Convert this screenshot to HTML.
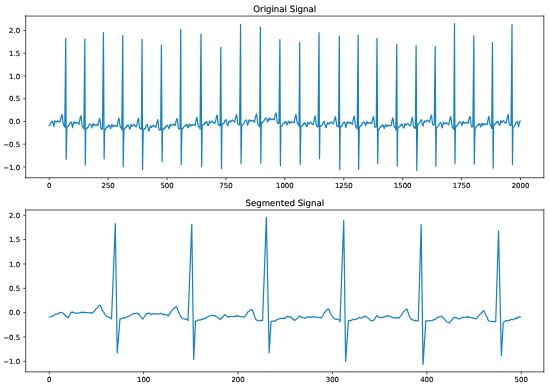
<!DOCTYPE html>
<html><head><meta charset="utf-8"><title>Signals</title>
<style>html,body{margin:0;padding:0;background:#fff;width:550px;height:389px;overflow:hidden}svg{display:block}
text{text-rendering:geometricPrecision;font-family:"DejaVu Sans","Liberation Sans",sans-serif;stroke:#000;stroke-width:0.2}</style></head>
<body>
<svg preserveAspectRatio="none" width="550" height="389" viewBox="0 0 792 560.16" version="1.1">
 
 <defs>
  <style type="text/css">*{stroke-linejoin: round; stroke-linecap: butt}</style>
 </defs>
 <g id="figure_1">
  <g id="patch_1">
   <path d="M 0 560.16 
L 792 560.16 
L 792 0 
L 0 0 
z
" style="fill: #ffffff"/>
  </g>
  <g id="axes_1">
   <g id="patch_2">
    <path d="M 37.008 255.96 
L 783.072 255.96 
L 783.072 23.112 
L 37.008 23.112 
z
" style="fill: #ffffff"/>
   </g>
   <g id="matplotlib.axis_1">
    <g id="xtick_1">
     <g id="line2d_1">
      <g>
       <path d="M 70.9200 255.9600 L 70.9200 259.4600" style="stroke: #000000"/>
      </g>
     </g>
     <g id="text_1">
      <text style="font-size: 10px; font-family: 'DejaVu Sans', 'Liberation Sans', sans-serif; text-anchor: middle" x="70.92" y="271.358437" transform="rotate(-0 70.92 271.358437)">0</text>
     </g>
    </g>
    <g id="xtick_2">
     <g id="line2d_2">
      <g>
       <path d="M 155.7424 255.9600 L 155.7424 259.4600" style="stroke: #000000"/>
      </g>
     </g>
     <g id="text_2">
      <text style="font-size: 10px; font-family: 'DejaVu Sans', 'Liberation Sans', sans-serif; text-anchor: middle" x="155.742411" y="271.358437" transform="rotate(-0 155.742411 271.358437)">250</text>
     </g>
    </g>
    <g id="xtick_3">
     <g id="line2d_3">
      <g>
       <path d="M 240.5648 255.9600 L 240.5648 259.4600" style="stroke: #000000"/>
      </g>
     </g>
     <g id="text_3">
      <text style="font-size: 10px; font-family: 'DejaVu Sans', 'Liberation Sans', sans-serif; text-anchor: middle" x="240.564822" y="271.358437" transform="rotate(-0 240.564822 271.358437)">500</text>
     </g>
    </g>
    <g id="xtick_4">
     <g id="line2d_4">
      <g>
       <path d="M 325.3872 255.9600 L 325.3872 259.4600" style="stroke: #000000"/>
      </g>
     </g>
     <g id="text_4">
      <text style="font-size: 10px; font-family: 'DejaVu Sans', 'Liberation Sans', sans-serif; text-anchor: middle" x="325.387234" y="271.358437" transform="rotate(-0 325.387234 271.358437)">750</text>
     </g>
    </g>
    <g id="xtick_5">
     <g id="line2d_5">
      <g>
       <path d="M 410.2096 255.9600 L 410.2096 259.4600" style="stroke: #000000"/>
      </g>
     </g>
     <g id="text_5">
      <text style="font-size: 10px; font-family: 'DejaVu Sans', 'Liberation Sans', sans-serif; text-anchor: middle" x="410.209645" y="271.358437" transform="rotate(-0 410.209645 271.358437)">1000</text>
     </g>
    </g>
    <g id="xtick_6">
     <g id="line2d_6">
      <g>
       <path d="M 495.0321 255.9600 L 495.0321 259.4600" style="stroke: #000000"/>
      </g>
     </g>
     <g id="text_6">
      <text style="font-size: 10px; font-family: 'DejaVu Sans', 'Liberation Sans', sans-serif; text-anchor: middle" x="495.032056" y="271.358437" transform="rotate(-0 495.032056 271.358437)">1250</text>
     </g>
    </g>
    <g id="xtick_7">
     <g id="line2d_7">
      <g>
       <path d="M 579.8545 255.9600 L 579.8545 259.4600" style="stroke: #000000"/>
      </g>
     </g>
     <g id="text_7">
      <text style="font-size: 10px; font-family: 'DejaVu Sans', 'Liberation Sans', sans-serif; text-anchor: middle" x="579.854467" y="271.358437" transform="rotate(-0 579.854467 271.358437)">1500</text>
     </g>
    </g>
    <g id="xtick_8">
     <g id="line2d_8">
      <g>
       <path d="M 664.6769 255.9600 L 664.6769 259.4600" style="stroke: #000000"/>
      </g>
     </g>
     <g id="text_8">
      <text style="font-size: 10px; font-family: 'DejaVu Sans', 'Liberation Sans', sans-serif; text-anchor: middle" x="664.676878" y="271.358437" transform="rotate(-0 664.676878 271.358437)">1750</text>
     </g>
    </g>
    <g id="xtick_9">
     <g id="line2d_9">
      <g>
       <path d="M 749.4993 255.9600 L 749.4993 259.4600" style="stroke: #000000"/>
      </g>
     </g>
     <g id="text_9">
      <text style="font-size: 10px; font-family: 'DejaVu Sans', 'Liberation Sans', sans-serif; text-anchor: middle" x="749.49929" y="271.358437" transform="rotate(-0 749.49929 271.358437)">2000</text>
     </g>
    </g>
   </g>
   <g id="matplotlib.axis_2">
    <g id="ytick_1">
     <g id="line2d_10">
      <g>
       <path d="M 37.0080 240.3504 L 33.5080 240.3504" style="stroke: #000000"/>
      </g>
     </g>
     <g id="text_10">
      <text style="font-size: 10px; font-family: 'DejaVu Sans', 'Liberation Sans', sans-serif; text-anchor: end" x="28.908" y="244.149619" transform="rotate(-0 28.908 244.149619)">−1.0</text>
     </g>
    </g>
    <g id="ytick_2">
     <g id="line2d_11">
      <g>
       <path d="M 37.0080 207.6264 L 33.5080 207.6264" style="stroke: #000000"/>
      </g>
     </g>
     <g id="text_11">
      <text style="font-size: 10px; font-family: 'DejaVu Sans', 'Liberation Sans', sans-serif; text-anchor: end" x="28.908" y="211.425619" transform="rotate(-0 28.908 211.425619)">−0.5</text>
     </g>
    </g>
    <g id="ytick_3">
     <g id="line2d_12">
      <g>
       <path d="M 37.0080 174.9024 L 33.5080 174.9024" style="stroke: #000000"/>
      </g>
     </g>
     <g id="text_12">
      <text style="font-size: 10px; font-family: 'DejaVu Sans', 'Liberation Sans', sans-serif; text-anchor: end" x="28.908" y="178.701619" transform="rotate(-0 28.908 178.701619)">0.0</text>
     </g>
    </g>
    <g id="ytick_4">
     <g id="line2d_13">
      <g>
       <path d="M 37.0080 142.1784 L 33.5080 142.1784" style="stroke: #000000"/>
      </g>
     </g>
     <g id="text_13">
      <text style="font-size: 10px; font-family: 'DejaVu Sans', 'Liberation Sans', sans-serif; text-anchor: end" x="28.908" y="145.977619" transform="rotate(-0 28.908 145.977619)">0.5</text>
     </g>
    </g>
    <g id="ytick_5">
     <g id="line2d_14">
      <g>
       <path d="M 37.0080 109.4544 L 33.5080 109.4544" style="stroke: #000000"/>
      </g>
     </g>
     <g id="text_14">
      <text style="font-size: 10px; font-family: 'DejaVu Sans', 'Liberation Sans', sans-serif; text-anchor: end" x="28.908" y="113.253619" transform="rotate(-0 28.908 113.253619)">1.0</text>
     </g>
    </g>
    <g id="ytick_6">
     <g id="line2d_15">
      <g>
       <path d="M 37.0080 76.7304 L 33.5080 76.7304" style="stroke: #000000"/>
      </g>
     </g>
     <g id="text_15">
      <text style="font-size: 10px; font-family: 'DejaVu Sans', 'Liberation Sans', sans-serif; text-anchor: end" x="28.908" y="80.529619" transform="rotate(-0 28.908 80.529619)">1.5</text>
     </g>
    </g>
    <g id="ytick_7">
     <g id="line2d_16">
      <g>
       <path d="M 37.0080 44.0064 L 33.5080 44.0064" style="stroke: #000000"/>
      </g>
     </g>
     <g id="text_16">
      <text style="font-size: 10px; font-family: 'DejaVu Sans', 'Liberation Sans', sans-serif; text-anchor: end" x="28.908" y="47.805619" transform="rotate(-0 28.908 47.805619)">2.0</text>
     </g>
    </g>
   </g>
   <g id="line2d_17">
    <path d="M 70.92 180.859147 
L 71.25929 180.414999 
L 71.598579 180.312645 
L 71.937869 180.089479 
L 72.277159 179.02575 
L 72.616448 178.344066 
L 73.295028 176.56378 
L 73.634317 177.056857 
L 73.973607 176.697351 
L 74.312896 175.591932 
L 74.991476 174.40407 
L 75.670055 175.313936 
L 76.009345 175.734055 
L 76.348634 177.576722 
L 76.687924 178.391226 
L 77.027214 180.096782 
L 77.366503 180.894328 
L 77.705793 182.148916 
L 78.723662 174.47787 
L 79.402241 174.08996 
L 79.741531 174.897645 
L 80.08082 175.122217 
L 80.42011 175.774367 
L 80.7594 175.428969 
L 81.098689 175.792473 
L 81.437979 175.143181 
L 81.777269 175.234129 
L 82.116558 175.061801 
L 82.455848 174.221882 
L 82.795138 174.912065 
L 83.473717 174.316227 
L 83.813007 174.926969 
L 84.152296 174.831627 
L 84.830875 175.044574 
L 85.509455 174.697391 
L 85.848744 175.179292 
L 86.188034 175.974515 
L 86.527324 174.683585 
L 87.205903 172.923158 
L 87.545193 170.662661 
L 88.223772 168.573279 
L 88.563062 166.420111 
L 88.902351 165.165949 
L 89.241641 165.020943 
L 90.938089 177.487973 
L 91.616668 180.256247 
L 91.955958 180.341424 
L 92.295248 181.174687 
L 92.634537 181.253064 
L 92.973827 182.052821 
L 93.313117 183.184234 
L 94.670275 55.198008 
L 95.348854 229.289688 
L 96.366723 183.184234 
L 96.706013 183.079376 
L 97.384592 182.497673 
L 97.723882 181.525422 
L 98.063172 182.016044 
L 98.402461 181.454124 
L 98.741751 180.676063 
L 99.75962 179.55694 
L 100.098909 178.443401 
L 100.438199 177.932484 
L 100.777489 176.619788 
L 101.116778 176.323113 
L 101.456068 176.280535 
L 101.795358 175.700069 
L 102.134647 175.787478 
L 102.473937 175.481489 
L 102.813227 176.554434 
L 103.152516 176.980893 
L 103.491806 178.95527 
L 103.831096 179.791965 
L 104.509675 183.686852 
L 105.866833 176.288317 
L 106.206123 176.368985 
L 106.545413 175.279172 
L 106.884702 175.799068 
L 107.563282 177.388462 
L 107.902571 176.97727 
L 108.241861 176.197769 
L 108.581151 176.035047 
L 108.92044 176.78224 
L 109.25973 176.544541 
L 109.59902 176.636711 
L 109.938309 177.086531 
L 110.277599 176.429484 
L 110.616888 176.7275 
L 110.956178 175.867943 
L 111.974047 177.523763 
L 112.313337 177.203838 
L 112.652626 177.607974 
L 113.331206 177.802117 
L 113.670495 179.485105 
L 114.009785 176.919424 
L 114.349075 176.199429 
L 114.688364 173.478476 
L 115.027654 172.416442 
L 115.366943 170.087382 
L 115.706233 168.788836 
L 116.045523 168.764278 
L 116.384812 166.990779 
L 116.724102 166.920253 
L 117.402681 174.187178 
L 118.081261 179.911785 
L 118.75984 182.760419 
L 119.438419 183.361307 
L 119.777709 183.29564 
L 120.116998 184.070261 
L 120.456288 184.067505 
L 120.795578 185.476511 
L 122.152736 56.376072 
L 122.831316 237.73248 
L 123.509895 186.110689 
L 123.849185 186.450995 
L 124.188474 185.842133 
L 124.527764 184.491415 
L 124.867054 185.027351 
L 125.206343 184.860606 
L 125.884922 183.259878 
L 126.224212 184.009096 
L 126.563502 183.005803 
L 126.902791 182.657919 
L 127.242081 182.587052 
L 127.581371 181.009526 
L 127.92066 180.567453 
L 128.25995 179.790318 
L 128.59924 179.373921 
L 128.938529 178.49106 
L 129.277819 178.740496 
L 129.617109 178.443908 
L 129.956398 178.682063 
L 130.295688 179.242891 
L 130.634977 178.995053 
L 130.974267 180.472793 
L 131.313557 180.913278 
L 132.331426 184.143739 
L 132.670715 182.669352 
L 133.010005 181.899483 
L 134.027874 177.732334 
L 135.385033 181.111207 
L 135.724322 179.960775 
L 136.063612 179.719251 
L 136.402901 180.106464 
L 136.742191 180.073299 
L 137.081481 180.214108 
L 137.42077 180.100967 
L 137.76006 179.688467 
L 138.09935 179.85212 
L 138.438639 178.701213 
L 138.777929 179.900323 
L 139.117219 179.495199 
L 139.456508 180.062411 
L 139.795798 180.230006 
L 140.135088 180.117059 
L 140.813667 181.052311 
L 141.152956 180.631557 
L 141.492246 177.9895 
L 141.831536 177.032822 
L 142.510115 173.175443 
L 142.849405 172.694431 
L 143.527984 170.713438 
L 143.867274 171.487984 
L 144.545853 177.41477 
L 145.224432 184.500417 
L 145.563722 184.95803 
L 145.903012 185.851383 
L 146.242301 186.11518 
L 146.581591 185.27123 
L 146.92088 185.541459 
L 147.26017 185.4437 
L 147.59946 185.689329 
L 148.956618 46.820664 
L 149.974487 228.766104 
L 150.653067 186.463242 
L 150.992356 186.188254 
L 151.331646 186.384159 
L 151.670935 186.166622 
L 152.010225 186.46404 
L 152.688804 184.368774 
L 153.028094 184.075968 
L 153.367384 183.47299 
L 153.706673 183.301891 
L 154.045963 182.417255 
L 154.385253 182.561983 
L 154.724542 183.104352 
L 155.063832 182.203524 
L 155.742411 182.591518 
L 156.42099 179.999977 
L 156.76028 180.082361 
L 157.09957 180.697457 
L 157.438859 181.0292 
L 157.778149 180.638606 
L 158.796018 184.344249 
L 159.135308 185.435605 
L 160.153177 182.091677 
L 160.492466 181.129641 
L 160.831756 179.284438 
L 161.171046 180.364531 
L 161.510335 180.276986 
L 161.849625 181.770293 
L 162.188914 181.747994 
L 162.528204 182.119627 
L 162.867494 182.741557 
L 163.206783 181.1375 
L 163.546073 180.832527 
L 163.885363 181.291099 
L 164.224652 180.665081 
L 164.563942 180.678496 
L 164.903232 181.712583 
L 165.242521 180.531444 
L 165.581811 180.653861 
L 165.921101 180.597094 
L 166.26039 181.052648 
L 166.59968 180.92346 
L 166.938969 181.12765 
L 167.278259 180.831059 
L 167.617549 181.406244 
L 167.956838 181.643538 
L 168.296128 181.122778 
L 168.635418 182.023055 
L 169.313997 178.904936 
L 169.653287 175.378081 
L 171.010445 170.282253 
L 171.349735 170.024713 
L 172.367604 178.457969 
L 173.046183 182.359606 
L 173.724762 183.620711 
L 174.064052 184.021266 
L 174.403342 183.494868 
L 175.081921 184.12279 
L 175.421211 187.173118 
L 176.778369 51.271128 
L 177.456948 240.284952 
L 178.474817 185.759805 
L 178.814107 185.938281 
L 179.153397 185.073837 
L 179.492686 185.406719 
L 180.171266 183.871307 
L 180.510555 184.306549 
L 180.849845 184.193142 
L 181.528424 183.282884 
L 181.867714 182.845078 
L 182.207004 181.44671 
L 182.546293 181.101576 
L 182.885583 182.340318 
L 183.564162 181.435553 
L 183.903452 180.054347 
L 184.242741 179.82375 
L 184.582031 180.224263 
L 184.921321 180.102447 
L 185.26061 181.775891 
L 185.5999 182.23786 
L 186.617769 185.722449 
L 186.957059 185.493437 
L 187.296348 185.552141 
L 187.635638 184.769083 
L 187.974927 183.165078 
L 188.653507 178.689389 
L 188.992796 179.598052 
L 189.332086 181.049465 
L 189.671376 181.546771 
L 190.010665 181.549786 
L 190.349955 181.377962 
L 190.689245 181.505047 
L 191.367824 180.650231 
L 191.707114 180.377103 
L 192.385693 178.910295 
L 192.724982 179.185261 
L 193.064272 179.612228 
L 193.403562 179.732951 
L 193.742851 180.538888 
L 194.082141 180.937337 
L 194.421431 181.809276 
L 194.76072 181.217116 
L 195.10001 182.360391 
L 195.4393 182.375757 
L 195.778589 181.677698 
L 196.117879 181.923879 
L 196.457169 182.358463 
L 196.796458 181.702727 
L 198.492906 173.137492 
L 199.171486 170.420849 
L 199.510775 170.309008 
L 200.528644 180.82178 
L 200.867934 183.427575 
L 201.207224 183.619366 
L 201.546513 184.71924 
L 201.885803 185.043836 
L 202.225093 185.655959 
L 202.564382 185.267759 
L 203.242961 186.108283 
L 203.582251 186.007587 
L 204.60012 56.637864 
L 205.278699 244.60452 
L 206.296568 186.007587 
L 206.975148 185.853616 
L 207.314437 186.106502 
L 207.653727 185.366378 
L 207.993017 185.5 
L 208.332306 185.852423 
L 208.671596 185.506561 
L 209.010885 184.589881 
L 209.350175 184.148869 
L 209.689465 184.208925 
L 210.028754 182.176179 
L 210.368044 181.812904 
L 210.707334 180.862561 
L 211.046623 180.852002 
L 211.385913 180.112804 
L 212.064492 179.244037 
L 212.403782 181.671468 
L 212.743072 182.341474 
L 213.082361 184.408326 
L 213.421651 185.267564 
L 213.76094 187.165983 
L 214.778809 188.782551 
L 215.118099 186.601598 
L 215.796678 184.135055 
L 216.135968 182.019543 
L 216.814547 181.294219 
L 217.153837 181.590993 
L 217.493127 182.362988 
L 218.171706 183.344583 
L 218.510995 183.212837 
L 219.189575 181.664609 
L 219.528864 182.001178 
L 219.868154 180.788544 
L 220.546733 181.477506 
L 220.886023 180.69642 
L 221.225313 181.047129 
L 221.564602 180.06738 
L 221.903892 181.219387 
L 222.243182 181.090212 
L 222.921761 182.148783 
L 223.261051 181.903771 
L 223.60034 182.521212 
L 223.93963 182.824279 
L 224.278919 183.439294 
L 224.618209 182.499481 
L 225.636078 177.48907 
L 225.975368 176.648564 
L 226.314657 174.772729 
L 226.653947 174.317292 
L 226.993237 172.269142 
L 227.332526 173.539848 
L 228.011106 178.947562 
L 228.350395 181.545708 
L 228.689685 185.03881 
L 229.368264 186.845982 
L 229.707554 187.186971 
L 230.046843 186.500482 
L 230.725423 187.085794 
L 231.064712 186.86167 
L 231.404002 187.322801 
L 232.421871 64.884312 
L 233.43974 232.627536 
L 234.118319 188.826039 
L 234.457609 187.018138 
L 234.796898 186.280257 
L 235.136188 185.200543 
L 235.475478 186.007959 
L 235.814767 185.889154 
L 236.154057 185.368787 
L 236.493347 185.189371 
L 236.832636 184.138453 
L 237.171926 183.934677 
L 237.511216 184.459381 
L 237.850505 184.264017 
L 238.529085 182.034584 
L 238.868374 183.163082 
L 239.207664 181.38785 
L 239.546953 181.560131 
L 239.886243 180.325587 
L 240.225533 180.753846 
L 240.564822 180.592128 
L 240.904112 180.785685 
L 241.243402 181.107579 
L 241.582691 180.960348 
L 241.921981 182.212104 
L 242.261271 182.55579 
L 243.27914 185.373527 
L 244.975588 178.996927 
L 245.314877 179.042231 
L 246.332746 181.232145 
L 246.672036 180.901678 
L 247.011326 180.119501 
L 247.350615 180.055168 
L 247.689905 180.171631 
L 248.368484 180.066208 
L 249.386353 179.34369 
L 249.725643 178.557011 
L 250.064932 179.555757 
L 250.404222 179.219615 
L 250.743512 179.758432 
L 251.082801 179.919233 
L 251.422091 179.818447 
L 252.10067 180.671973 
L 252.43996 180.404915 
L 252.77925 178.290215 
L 253.457829 175.302373 
L 253.797119 173.498429 
L 254.814987 170.847242 
L 255.154277 170.784 
L 255.493567 172.489488 
L 256.172146 178.576964 
L 256.511436 182.125903 
L 256.850725 184.324036 
L 257.529305 185.598612 
L 257.868594 185.67208 
L 258.207884 184.997852 
L 258.547174 185.227289 
L 258.886463 185.147414 
L 259.225753 185.383085 
L 260.243622 42.453864 
L 260.922201 236.932272 
L 261.94007 185.410912 
L 262.27936 185.150209 
L 262.618649 185.311475 
L 262.957939 185.148194 
L 263.297229 185.349909 
L 263.636518 184.667253 
L 263.975808 183.656058 
L 264.654387 182.671248 
L 264.993677 182.329555 
L 265.672256 181.426951 
L 266.011546 181.713922 
L 266.350835 181.759545 
L 266.690125 181.203785 
L 267.029415 181.387116 
L 267.368704 181.296592 
L 268.047284 178.952997 
L 268.386573 179.038019 
L 268.725863 179.621162 
L 269.065153 179.946711 
L 269.404442 179.642075 
L 270.761601 184.000591 
L 271.10089 183.665913 
L 272.118759 180.614552 
L 272.458049 179.358401 
L 272.797339 178.596815 
L 273.136628 179.287188 
L 273.475918 179.57374 
L 273.815208 180.713908 
L 274.154497 180.743928 
L 274.833077 181.647563 
L 275.172366 180.126834 
L 275.511656 179.803962 
L 275.850945 180.179214 
L 276.190235 179.726572 
L 276.529525 179.62303 
L 276.868814 180.364799 
L 277.547394 179.553836 
L 277.886683 179.56983 
L 278.565263 179.941596 
L 279.583132 179.950537 
L 279.922421 180.412467 
L 280.261711 180.489761 
L 280.601001 180.199059 
L 280.94029 180.846863 
L 281.618869 177.875406 
L 281.958159 174.554767 
L 283.315318 169.535215 
L 283.654607 169.056 
L 283.993897 170.931706 
L 284.672476 176.21279 
L 285.351056 180.202556 
L 285.690345 181.543223 
L 286.368924 182.672421 
L 286.708214 182.859554 
L 287.047504 182.487308 
L 287.386793 182.765203 
L 287.726083 183.228919 
L 288.065373 186.120788 
L 289.422531 49.077864 
L 290.4404 239.812272 
L 291.118979 180.977217 
L 291.458269 181.150997 
L 291.797559 180.336747 
L 292.136848 180.597851 
L 292.815428 179.179393 
L 293.154717 179.455239 
L 293.494007 179.431445 
L 294.511876 178.177703 
L 294.851166 177.068913 
L 295.190455 176.427978 
L 295.529745 177.133951 
L 295.869035 177.311504 
L 296.208324 176.856218 
L 296.886903 175.144324 
L 297.565483 175.380768 
L 297.904772 176.112544 
L 299.261931 180.411992 
L 299.601221 180.861515 
L 300.2798 180.542879 
L 300.61909 179.564389 
L 301.636958 174.074187 
L 302.654827 176.7645 
L 302.994117 176.753633 
L 303.333407 176.602063 
L 303.672696 176.709468 
L 304.351276 175.877147 
L 304.690565 175.608891 
L 305.369145 174.204663 
L 305.708434 174.366494 
L 306.047724 174.762224 
L 306.387014 174.928125 
L 307.404882 176.797231 
L 307.744172 176.605943 
L 308.083462 177.216769 
L 308.422751 177.587913 
L 308.762041 177.15229 
L 309.101331 177.044115 
L 309.44062 177.392893 
L 309.77991 177.213495 
L 310.458489 174.505424 
L 312.154937 166.571173 
L 312.494227 165.6 
L 312.833517 166.698486 
L 313.851386 176.656355 
L 314.190675 178.685364 
L 314.529965 179.039387 
L 314.869255 179.987904 
L 315.547834 180.832508 
L 315.887124 180.521317 
L 316.565703 181.323045 
L 316.904992 181.224999 
L 317.922861 68.085864 
L 318.94073 242.836272 
L 319.61931 178.542189 
L 320.297889 178.390487 
L 320.637179 178.630989 
L 320.976468 177.940453 
L 321.315758 178.025694 
L 321.655048 178.358831 
L 321.994337 178.073444 
L 322.333627 177.222263 
L 322.672916 176.736393 
L 323.012206 176.73552 
L 323.351496 175.008917 
L 323.690785 174.40563 
L 324.030075 173.561889 
L 324.369365 173.388575 
L 325.047944 172.349718 
L 325.387234 171.889785 
L 325.726523 173.623487 
L 326.065813 174.706341 
L 326.744392 177.561579 
L 327.083682 179.143716 
L 327.422971 180.041891 
L 328.101551 181.094377 
L 329.11942 177.17745 
L 329.458709 175.372143 
L 329.797999 174.310572 
L 330.137289 173.960827 
L 330.476578 173.998971 
L 331.494447 175.632232 
L 331.833737 175.810677 
L 332.173027 175.381451 
L 332.512316 174.617658 
L 333.190895 173.969884 
L 333.530185 173.456179 
L 333.869475 173.790625 
L 334.208764 173.678845 
L 334.887344 173.189831 
L 335.226633 173.047425 
L 335.565923 173.705763 
L 335.905213 173.829963 
L 336.244502 174.364093 
L 336.583792 174.601714 
L 336.923082 174.635954 
L 337.601661 175.539286 
L 337.94095 175.710748 
L 338.28024 174.5717 
L 339.298109 169.833157 
L 339.637399 168.782988 
L 339.976688 167.216244 
L 340.315978 166.469572 
L 340.655268 165.024 
L 340.994557 166.573618 
L 342.351716 177.667875 
L 343.030295 179.407863 
L 343.369585 179.675807 
L 343.708874 179.054928 
L 344.387454 179.61442 
L 344.726743 179.402421 
L 345.066033 179.857403 
L 346.423192 35.109864 
L 347.101771 235.492272 
L 348.11964 180.40171 
L 348.458929 180.302371 
L 349.137509 179.766025 
L 349.476798 178.947582 
L 349.816088 179.104409 
L 350.155378 178.849048 
L 350.833957 177.699899 
L 351.512536 176.929336 
L 352.191116 175.472644 
L 352.869695 173.759192 
L 353.548274 173.406358 
L 353.887564 172.926746 
L 354.226853 172.988849 
L 354.566143 172.698965 
L 354.905433 173.715439 
L 355.244722 174.153478 
L 355.584012 175.861002 
L 355.923302 176.833294 
L 356.601881 180.393992 
L 356.941171 179.660427 
L 358.298329 173.539758 
L 358.637619 173.18495 
L 358.976908 172.660825 
L 359.655488 173.929546 
L 359.994777 174.541013 
L 360.334067 174.112693 
L 360.673357 173.406681 
L 361.012646 173.252523 
L 361.351936 173.96039 
L 361.691226 173.787038 
L 362.030515 173.839634 
L 362.369805 174.209308 
L 362.709095 173.819867 
L 363.048384 173.850865 
L 363.387674 173.402098 
L 363.726963 173.376322 
L 364.744832 174.606533 
L 365.084122 174.570206 
L 365.423412 174.849536 
L 365.762701 174.932741 
L 366.101991 175.373906 
L 366.441281 176.297474 
L 366.78057 174.061111 
L 367.11986 173.273697 
L 367.45915 170.695952 
L 367.798439 169.689814 
L 368.137729 167.550022 
L 368.477019 166.211345 
L 368.816308 165.986924 
L 369.155598 164.674965 
L 369.494887 164.16 
L 369.834177 166.647793 
L 370.512756 172.815093 
L 371.191336 177.641911 
L 371.869915 180.075623 
L 372.548494 180.564958 
L 372.887784 180.635424 
L 373.227074 181.287447 
L 373.566363 181.359139 
L 373.905653 182.693986 
L 374.923522 39.573864 
L 375.602101 235.060272 
L 376.28068 177.831933 
L 376.61997 178.154089 
L 376.95926 177.628322 
L 377.298549 176.428774 
L 377.637839 176.634261 
L 377.977129 176.626315 
L 378.655708 175.25636 
L 378.994997 175.410673 
L 379.334287 175.208627 
L 379.673577 174.564701 
L 380.012866 174.349871 
L 380.352156 173.740386 
L 380.691446 172.5952 
L 381.709315 170.965678 
L 382.048604 170.235584 
L 382.387894 170.449876 
L 382.727184 170.169106 
L 383.066473 170.38743 
L 383.405763 170.896835 
L 383.745053 170.759255 
L 384.084342 171.859082 
L 384.762921 173.348694 
L 385.441501 175.419378 
L 385.78079 175.117959 
L 387.477239 169.656639 
L 388.834397 172.801773 
L 389.173687 171.712697 
L 389.512976 171.459816 
L 389.852266 171.776079 
L 390.870135 171.855398 
L 391.209425 171.552711 
L 391.548714 171.507903 
L 391.888004 170.944201 
L 392.227294 171.014018 
L 392.566583 171.443312 
L 392.905873 171.435764 
L 393.245163 171.83952 
L 393.923742 171.93731 
L 394.602321 172.723065 
L 394.941611 172.176663 
L 395.2809 169.697988 
L 395.62019 168.792333 
L 396.298769 165.15935 
L 396.977349 163.631222 
L 397.316638 162.72 
L 397.655928 162.930391 
L 397.995218 164.929643 
L 398.673797 171.067825 
L 399.013087 174.466665 
L 399.352376 176.392503 
L 400.030955 177.642973 
L 400.370245 177.656381 
L 400.709535 177.03571 
L 401.048824 177.252275 
L 401.388114 177.178044 
L 401.727404 177.410573 
L 403.084562 57.141864 
L 403.763142 238.804272 
L 404.441721 181.378912 
L 404.781011 181.118209 
L 405.1203 181.279475 
L 405.45959 181.116194 
L 405.798879 181.317909 
L 406.138169 180.635253 
L 406.477459 179.624058 
L 407.156038 178.639248 
L 407.495328 178.297555 
L 408.173907 177.394951 
L 408.513197 177.681922 
L 408.852486 177.727545 
L 409.191776 177.171785 
L 409.531066 177.355116 
L 409.870355 177.264592 
L 410.548934 174.920997 
L 410.888224 175.006019 
L 411.227514 175.589162 
L 411.566803 175.914711 
L 411.906093 175.610075 
L 413.263252 179.968591 
L 413.602541 179.633913 
L 414.62041 176.582552 
L 414.9597 175.326401 
L 415.298989 174.564815 
L 415.638279 175.255188 
L 415.977569 175.54174 
L 416.316858 176.681908 
L 416.656148 176.711928 
L 417.334727 177.615563 
L 417.674017 176.094834 
L 418.013307 175.771962 
L 418.352596 176.147214 
L 418.691886 175.694572 
L 419.031176 175.59103 
L 419.370465 176.332799 
L 420.049045 175.521836 
L 420.388334 175.53783 
L 421.066913 175.909596 
L 422.084782 175.918537 
L 422.424072 176.380467 
L 422.763362 176.457761 
L 423.102651 176.167059 
L 423.441941 176.814863 
L 424.12052 173.843406 
L 424.45981 170.522767 
L 425.816968 165.503215 
L 426.156258 165.024 
L 426.495548 166.899706 
L 427.174127 172.18079 
L 427.852706 176.170556 
L 428.191996 177.511223 
L 428.870575 178.640421 
L 429.209865 178.827554 
L 429.549155 178.455308 
L 429.888444 178.733203 
L 430.227734 179.196919 
L 430.567024 182.088788 
L 431.584892 61.173864 
L 432.263472 236.932272 
L 433.281341 182.472412 
L 433.62063 182.639047 
L 433.95992 181.795564 
L 434.29921 182.084547 
L 434.977789 180.613725 
L 435.317079 181.009835 
L 435.656368 180.85417 
L 436.674237 179.366128 
L 437.013527 178.107311 
L 437.352816 178.017812 
L 437.692106 178.983499 
L 438.031396 178.564318 
L 438.370685 177.864351 
L 438.709975 176.716412 
L 439.049265 176.629627 
L 439.727844 177.250608 
L 440.067134 178.615065 
L 440.406423 179.285564 
L 441.085003 181.862595 
L 441.424292 182.359764 
L 442.102871 181.985851 
L 442.442161 180.888428 
L 443.12074 176.622771 
L 443.46003 175.775419 
L 444.138609 177.980069 
L 444.477899 178.260741 
L 445.495768 177.974201 
L 446.513637 176.696651 
L 446.852926 175.953391 
L 447.192216 175.777335 
L 448.210085 176.931328 
L 448.888664 178.199385 
L 449.227954 178.140629 
L 449.906533 179.083313 
L 450.245823 178.610242 
L 450.585113 178.562295 
L 450.924402 178.946053 
L 451.263692 178.594988 
L 452.281561 173.65028 
L 452.62085 171.271047 
L 453.638719 167.396503 
L 453.978009 167.04 
L 455.335168 179.854615 
L 455.674457 180.313582 
L 456.013747 181.341446 
L 456.353037 181.734211 
L 456.692326 182.335025 
L 457.031616 181.99632 
L 457.710195 182.815648 
L 458.049485 182.720194 
L 459.406643 46.917864 
L 460.085223 228.436272 
L 460.763802 181.409111 
L 461.442381 181.265914 
L 461.781671 181.46001 
L 462.12096 180.955275 
L 462.46025 180.859239 
L 462.79954 181.120116 
L 463.138829 181.061315 
L 463.817409 179.801603 
L 464.156698 179.57244 
L 464.495988 178.992906 
L 464.835278 177.490333 
L 465.174567 177.046013 
L 465.513857 176.262882 
L 465.853147 176.216098 
L 466.192436 175.523685 
L 466.871016 174.713838 
L 467.210305 176.581361 
L 467.549595 177.564895 
L 468.228174 180.331919 
L 468.906753 182.804294 
L 469.585333 183.752622 
L 469.924622 183.549114 
L 470.263912 181.751035 
L 470.942491 179.32235 
L 471.281781 177.405651 
L 471.96036 176.724042 
L 472.29965 176.947437 
L 472.978229 178.090934 
L 473.317519 178.565246 
L 473.656808 178.667727 
L 473.996098 178.23033 
L 474.335388 177.50521 
L 475.013967 176.988258 
L 475.353257 176.27179 
L 476.031836 176.760384 
L 476.371126 176.12902 
L 476.710415 176.423849 
L 477.049705 175.50611 
L 477.388994 176.504252 
L 477.728284 176.512993 
L 478.406863 177.408024 
L 478.746153 177.392135 
L 479.424732 178.080024 
L 479.764022 178.506063 
L 480.103312 178.472031 
L 480.442601 177.330342 
L 481.46047 172.773562 
L 481.79976 171.90762 
L 482.13905 170.168489 
L 482.478339 169.741876 
L 482.817629 167.904 
L 483.156918 168.716184 
L 484.853367 180.888734 
L 485.531946 182.376996 
L 485.871236 182.371251 
L 486.210525 181.996205 
L 486.549815 182.314579 
L 486.889105 182.458948 
L 487.228394 182.29238 
L 487.567684 182.724325 
L 488.585553 51.957864 
L 489.264132 244.276272 
L 489.942711 183.303981 
L 490.282001 183.199123 
L 490.96058 182.61742 
L 491.29987 181.645169 
L 491.63916 182.135791 
L 491.978449 181.573871 
L 492.317739 180.79581 
L 493.335608 179.676687 
L 493.674897 178.563148 
L 494.014187 178.052231 
L 494.353477 176.739535 
L 494.692766 176.44286 
L 495.032056 176.400282 
L 495.371346 175.819816 
L 495.710635 175.907225 
L 496.049925 175.601236 
L 496.389215 176.674181 
L 496.728504 177.10064 
L 497.067794 179.075017 
L 497.407084 179.911712 
L 498.085663 183.806599 
L 499.442821 176.408064 
L 499.782111 176.488732 
L 500.121401 175.398919 
L 500.46069 175.918815 
L 501.13927 177.508209 
L 501.478559 177.097017 
L 501.817849 176.317516 
L 502.157139 176.154794 
L 502.496428 176.901987 
L 502.835718 176.664288 
L 503.175008 176.756458 
L 503.514297 177.206278 
L 503.853587 176.549231 
L 504.192876 176.847247 
L 504.532166 175.98769 
L 505.550035 177.64351 
L 505.889325 177.323585 
L 506.228614 177.727721 
L 506.907194 177.921864 
L 507.246483 179.604852 
L 507.585773 177.039171 
L 507.925063 176.319176 
L 508.264352 173.598223 
L 508.603642 172.536189 
L 508.942931 170.207129 
L 509.282221 168.908583 
L 509.621511 168.884025 
L 509.9608 167.110526 
L 510.30009 167.04 
L 510.978669 174.306925 
L 511.657249 180.031532 
L 512.335828 182.880166 
L 513.014407 183.481054 
L 513.353697 183.415387 
L 513.692986 184.190008 
L 514.032276 184.187253 
L 514.371566 185.596258 
L 515.728724 50.517864 
L 516.407304 243.844272 
L 517.425173 183.172161 
L 517.764462 183.50774 
L 518.103752 182.920517 
L 518.443042 181.609166 
L 518.782331 182.059048 
L 519.121621 181.933657 
L 519.8002 180.393026 
L 520.13949 180.987321 
L 520.478779 180.192686 
L 520.818069 179.767708 
L 521.157359 179.65935 
L 521.496648 178.333918 
L 522.853807 175.748723 
L 523.193097 175.743072 
L 523.532386 175.579526 
L 523.871676 175.680688 
L 524.210965 176.148577 
L 524.550255 176.128811 
L 526.246703 180.839499 
L 526.585993 180.283718 
L 527.264572 178.14013 
L 527.943152 175.400551 
L 528.282441 175.263856 
L 529.30031 177.812174 
L 529.6396 177.597463 
L 529.978889 176.904839 
L 530.318179 176.963573 
L 530.657469 177.152734 
L 531.336048 177.226866 
L 532.693207 176.212351 
L 533.032496 176.815499 
L 533.371786 176.753619 
L 533.711076 177.179748 
L 534.389655 177.311997 
L 534.728944 177.760711 
L 535.068234 177.996907 
L 535.407524 176.995819 
L 535.746813 174.811802 
L 536.086103 173.606371 
L 536.764682 170.136704 
L 537.103972 169.551618 
L 537.443262 168.53731 
L 537.782551 167.904 
L 538.121841 168.99748 
L 538.80042 174.979317 
L 539.478999 181.606379 
L 539.818289 182.093947 
L 540.157579 182.931174 
L 540.496868 183.129766 
L 540.836158 182.343961 
L 541.175448 182.600215 
L 541.514737 182.508583 
L 541.854027 182.750801 
L 542.871896 55.269864 
L 543.889765 235.492272 
L 544.568344 186.19027 
L 544.907634 185.922615 
L 545.246923 186.100738 
L 545.586213 185.911053 
L 545.925503 186.159343 
L 546.943372 183.857653 
L 547.282661 183.328653 
L 547.621951 183.069982 
L 547.961241 182.380185 
L 548.30053 182.246557 
L 548.63982 182.657821 
L 548.97911 182.242839 
L 549.318399 182.051395 
L 549.657689 182.240482 
L 549.996978 181.494716 
L 550.336268 180.250436 
L 550.675558 179.769844 
L 551.354137 180.579298 
L 551.693427 180.584366 
L 552.032716 180.93103 
L 553.050585 184.435062 
L 553.389875 184.794387 
L 555.086323 179.198682 
L 555.425613 180.078718 
L 555.764902 180.18321 
L 556.104192 181.495239 
L 556.443482 181.499797 
L 556.782771 181.871532 
L 557.122061 182.447197 
L 557.461351 180.885916 
L 557.80064 180.571754 
L 558.13993 180.987555 
L 558.47922 180.450537 
L 558.818509 180.403914 
L 559.157799 181.287944 
L 559.497089 180.463202 
L 560.175668 180.336989 
L 560.514957 180.664269 
L 561.532826 180.656951 
L 562.211406 181.278812 
L 562.550695 181.065053 
L 562.889985 181.353961 
L 563.229275 181.023426 
L 563.568564 179.498078 
L 564.247144 174.55564 
L 565.265013 170.710776 
L 565.604302 169.92 
L 565.943592 170.757527 
L 566.961461 178.667718 
L 567.64004 182.207754 
L 568.318619 183.401146 
L 568.657909 183.692144 
L 568.997199 183.244878 
L 569.675778 183.93116 
L 570.015068 186.900145 
L 571.372226 63.765864 
L 572.050805 239.092272 
L 572.729385 184.414342 
L 573.068674 184.590438 
L 573.407964 183.751426 
L 573.747254 184.04794 
L 574.425833 182.571785 
L 574.765123 182.926266 
L 575.104412 182.858264 
L 576.122281 181.557989 
L 576.461571 180.306341 
L 576.80086 179.811334 
L 577.14015 180.78014 
L 577.47944 180.67777 
L 577.818729 180.193071 
L 578.158019 179.003541 
L 578.497309 178.530556 
L 578.836598 178.782677 
L 579.175888 178.787844 
L 579.515178 179.984176 
L 580.193757 181.715565 
L 580.872336 184.109532 
L 581.211626 184.224311 
L 581.550915 184.186327 
L 581.890205 183.705521 
L 582.229495 182.418443 
L 582.908074 178.154077 
L 583.247364 177.877008 
L 583.925943 179.982493 
L 584.265233 180.202956 
L 585.283102 179.909458 
L 586.30097 178.688301 
L 586.64026 177.964489 
L 586.97955 177.685817 
L 587.997419 178.709862 
L 588.675998 179.917398 
L 589.015288 180.250635 
L 589.354577 180.267988 
L 589.693867 181.02005 
L 590.033157 180.806915 
L 590.372446 180.40773 
L 590.711736 180.705894 
L 591.051026 180.829394 
L 591.390315 179.878855 
L 592.408184 174.528887 
L 592.747474 172.500409 
L 593.426053 170.276769 
L 593.765343 169.056 
L 594.104632 169.557391 
L 595.122501 179.789012 
L 595.461791 182.102569 
L 595.801081 182.376558 
L 596.14037 183.399744 
L 596.47966 183.739181 
L 596.818949 184.289792 
L 597.158239 183.94061 
L 597.836818 184.761477 
L 598.176108 184.662123 
L 599.193977 65.637864 
L 600.211846 245.389896 
L 601.229715 178.71204 
L 601.908294 178.57944 
L 602.247584 178.717137 
L 602.586873 178.093416 
L 603.265453 178.469193 
L 603.604742 177.939884 
L 603.944032 177.14526 
L 604.283322 176.876161 
L 604.622611 176.054472 
L 604.961901 174.711787 
L 605.64048 173.561214 
L 606.658349 172.107337 
L 607.676218 176.705231 
L 608.015508 177.838896 
L 608.354797 179.65653 
L 609.372666 181.456287 
L 609.711956 179.24372 
L 610.390535 176.541549 
L 610.729825 174.649666 
L 611.069115 174.246071 
L 611.408404 174.078091 
L 611.747694 174.534656 
L 612.426273 175.728544 
L 612.765563 175.991514 
L 613.104852 175.571379 
L 613.444142 174.764556 
L 613.783432 174.558679 
L 614.122721 173.971219 
L 614.462011 173.683124 
L 614.801301 174.059408 
L 615.14059 173.609897 
L 615.47988 173.672549 
L 615.81917 172.951224 
L 616.158459 173.761586 
L 616.497749 173.807401 
L 617.176328 174.846353 
L 617.515618 174.625618 
L 617.854907 175.247008 
L 618.533487 175.998143 
L 618.872776 174.862031 
L 619.890645 169.921247 
L 620.908514 166.098636 
L 621.247804 165.6 
L 622.265673 173.262134 
L 622.604962 176.562496 
L 622.944252 178.366919 
L 623.283542 179.316795 
L 623.622831 179.819384 
L 623.962121 179.320961 
L 624.6407 179.772229 
L 624.97999 179.575594 
L 625.31928 180.027254 
L 626.676438 66.645864 
L 627.694307 239.524272 
L 628.372886 184.122235 
L 628.712176 184.020211 
L 629.390755 183.461799 
L 629.730045 182.568531 
L 630.069335 182.887745 
L 630.408624 182.483247 
L 630.747914 181.761265 
L 631.765783 180.574494 
L 633.122941 177.373369 
L 633.462231 177.235797 
L 634.14081 176.685318 
L 634.4801 176.568349 
L 634.81939 176.941463 
L 635.158679 177.688375 
L 635.497969 178.772678 
L 636.515838 183.576596 
L 636.855128 183.986093 
L 638.212286 177.243759 
L 638.551576 177.100805 
L 638.890865 176.30148 
L 639.569445 177.562323 
L 639.908734 178.293123 
L 640.248024 177.873136 
L 640.587314 177.131372 
L 640.926603 176.973048 
L 641.265893 177.700046 
L 641.605183 177.495391 
L 641.944472 177.567238 
L 642.283762 177.975903 
L 642.623052 177.456274 
L 642.962341 177.617173 
L 643.301631 176.968563 
L 643.64092 177.199771 
L 644.3195 178.275292 
L 644.658789 178.236951 
L 645.676658 178.695518 
L 646.015948 179.740813 
L 646.355238 178.966909 
L 647.033817 175.740184 
L 648.051686 170.463849 
L 648.730265 169.031225 
L 649.069555 167.904 
L 649.408844 169.147206 
L 650.087424 175.849458 
L 650.766003 181.113038 
L 651.444582 183.748604 
L 652.123162 184.292208 
L 652.462451 184.296448 
L 652.801741 185.008113 
L 653.141031 185.043587 
L 653.48032 186.414511 
L 654.498189 33.731064 
L 655.176768 235.492272 
L 655.855348 182.924445 
L 656.194637 183.250955 
L 656.533927 182.705256 
L 656.873217 181.469448 
L 657.212506 181.754198 
L 657.551796 181.708161 
L 658.230375 180.282852 
L 658.569665 180.579862 
L 658.908954 180.185625 
L 659.248244 179.612709 
L 659.587534 179.432411 
L 660.605403 177.045151 
L 661.623272 175.382343 
L 661.962561 175.474093 
L 662.301851 175.312375 
L 662.98043 176.019806 
L 663.31972 175.968565 
L 663.65901 177.316312 
L 663.998299 177.755987 
L 665.016168 180.861695 
L 666.712616 174.965046 
L 667.051906 175.106339 
L 668.069775 177.584224 
L 668.409065 177.349747 
L 668.748354 176.66356 
L 669.087644 176.695217 
L 669.426933 176.907671 
L 670.105513 176.994227 
L 671.123382 176.46369 
L 671.462671 175.677011 
L 671.801961 176.675757 
L 672.141251 176.339615 
L 672.48054 176.878432 
L 672.81983 177.039233 
L 673.15912 176.938447 
L 673.837699 177.791973 
L 674.176988 177.524915 
L 674.516278 175.410215 
L 675.194857 172.422373 
L 675.534147 170.618429 
L 676.552016 167.967242 
L 676.891306 167.904 
L 677.230595 169.609488 
L 677.909175 175.696964 
L 678.248464 179.245903 
L 678.587754 181.444036 
L 679.266333 182.718612 
L 679.605623 182.79208 
L 679.944912 182.117852 
L 680.284202 182.347289 
L 680.623492 182.267414 
L 680.962781 182.503085 
L 682.31994 51.669864 
L 682.998519 236.212272 
L 684.016388 184.255473 
L 684.355678 183.986004 
L 684.694967 184.164134 
L 685.034257 183.983987 
L 685.373547 184.142956 
L 686.052126 182.111517 
L 687.069995 180.869848 
L 687.409285 180.250254 
L 687.748574 180.522272 
L 688.087864 180.592078 
L 688.427154 180.066371 
L 688.766443 180.265554 
L 689.105733 179.776603 
L 689.445023 178.426441 
L 689.784312 177.831659 
L 690.462891 178.667241 
L 690.802181 178.601378 
L 691.141471 179.240013 
L 692.15934 182.874298 
L 692.498629 182.382201 
L 693.177209 180.197051 
L 693.516498 179.125119 
L 693.855788 177.414523 
L 694.195078 177.989423 
L 694.534367 178.080314 
L 694.873657 179.415296 
L 695.212946 179.541796 
L 695.552236 179.896156 
L 695.891526 180.525028 
L 696.230815 178.925436 
L 696.570105 178.644135 
L 696.909395 179.039244 
L 697.248684 178.458634 
L 697.587974 178.601809 
L 697.927264 179.32182 
L 698.266553 178.346089 
L 698.945133 178.498401 
L 699.284422 178.810308 
L 699.963002 178.823802 
L 700.302291 178.82582 
L 700.641581 179.288713 
L 700.98087 179.223064 
L 701.32016 179.308088 
L 701.65945 179.18202 
L 701.998739 177.58735 
L 702.677319 172.50453 
L 703.695188 168.484407 
L 704.034477 167.904 
L 704.373767 169.986113 
L 705.052346 175.620856 
L 705.730925 179.779102 
L 706.409505 181.32671 
L 706.748794 181.768364 
L 707.088084 181.331584 
L 707.766663 181.905425 
L 708.105953 184.965349 
L 709.123822 60.885864 
L 710.141691 241.972272 
L 710.82027 180.474797 
L 711.15956 180.653273 
L 711.498849 179.788829 
L 711.838139 180.121711 
L 712.516718 178.586299 
L 712.856008 179.021541 
L 713.195298 178.908134 
L 713.873877 177.997876 
L 714.213167 177.56007 
L 714.552456 176.161702 
L 714.891746 175.816568 
L 715.231036 177.05531 
L 715.909615 176.150545 
L 716.248904 174.769339 
L 716.588194 174.538742 
L 716.927484 174.939255 
L 717.266773 174.817439 
L 717.606063 176.490883 
L 717.945353 176.952852 
L 718.963222 180.437441 
L 719.302511 180.208429 
L 719.641801 180.267133 
L 719.981091 179.484075 
L 720.32038 177.88007 
L 720.998959 173.404381 
L 721.338249 174.313044 
L 721.677539 175.764457 
L 722.016828 176.261763 
L 722.356118 176.264777 
L 722.695408 176.092954 
L 723.034697 176.220039 
L 723.713277 175.365223 
L 724.052566 175.092095 
L 724.731146 173.625287 
L 725.070435 173.900253 
L 725.409725 174.32722 
L 725.749015 174.447943 
L 726.088304 175.25388 
L 726.427594 175.652329 
L 726.766883 176.524268 
L 727.106173 175.932108 
L 727.445463 177.075383 
L 727.784752 177.090749 
L 728.124042 176.39269 
L 728.463332 176.638871 
L 728.802621 177.073455 
L 729.141911 176.417719 
L 730.838359 167.852484 
L 731.516938 165.135841 
L 731.856228 165.024 
L 732.874097 175.536772 
L 733.213387 178.142566 
L 733.552676 178.334358 
L 733.891966 179.434232 
L 734.231256 179.758828 
L 734.570545 180.370951 
L 734.909835 179.982751 
L 735.588414 180.823275 
L 735.927704 180.722578 
L 737.284862 35.541864 
L 737.963442 236.932272 
L 738.642021 183.184234 
L 738.981311 183.071527 
L 739.65989 182.456886 
L 739.99918 181.462627 
L 740.338469 181.928286 
L 741.695628 179.639356 
L 742.034917 179.308721 
L 742.374207 178.157034 
L 742.713497 177.606192 
L 743.052786 176.251872 
L 743.392076 175.911939 
L 743.731366 175.824528 
L 744.070655 175.19771 
L 744.409945 175.237294 
L 744.749235 174.882053 
L 745.088524 175.904357 
L 745.427814 176.278825 
L 745.767104 178.199894 
L 746.106393 178.981996 
L 746.784972 182.76396 
L 748.142131 175.12534 
L 748.481421 175.143153 
L 748.82071 173.989391 
L 749.16 174.444264 
L 749.16 174.444264 
" clip-path="url(#p8add9340f0)" style="fill: none; stroke: #1681c5; stroke-width: 1.75; stroke-linecap: square"/>
   </g>
   <g id="patch_3">
    <path d="M 37.008 255.96 
L 37.008 23.112 
" style="fill: none; stroke: #000000; stroke-linejoin: miter; stroke-linecap: square"/>
   </g>
   <g id="patch_4">
    <path d="M 783.072 255.96 
L 783.072 23.112 
" style="fill: none; stroke: #000000; stroke-linejoin: miter; stroke-linecap: square"/>
   </g>
   <g id="patch_5">
    <path d="M 37.008 255.96 
L 783.072 255.96 
" style="fill: none; stroke: #000000; stroke-linejoin: miter; stroke-linecap: square"/>
   </g>
   <g id="patch_6">
    <path d="M 37.008 23.112 
L 783.072 23.112 
" style="fill: none; stroke: #000000; stroke-linejoin: miter; stroke-linecap: square"/>
   </g>
   <g id="text_17">
    <text style="font-size: 12.4px; font-family: 'DejaVu Sans', 'Liberation Sans', sans-serif; text-anchor: middle" x="410.04" y="17.112" transform="rotate(-0 410.04 17.112)">Original Signal</text>
   </g>
  </g>
  <g id="axes_2">
   <g id="patch_7">
    <path d="M 37.008 535.464 
L 783.072 535.464 
L 783.072 302.4 
L 37.008 302.4 
z
" style="fill: #ffffff"/>
   </g>
   <g id="matplotlib.axis_3">
    <g id="xtick_10">
     <g id="line2d_18">
      <g>
       <path d="M 70.9200 535.4640 L 70.9200 538.9640" style="stroke: #000000"/>
      </g>
     </g>
     <g id="text_18">
      <text style="font-size: 10px; font-family: 'DejaVu Sans', 'Liberation Sans', sans-serif; text-anchor: middle" x="70.92" y="550.302437" transform="rotate(-0 70.92 550.302437)">0</text>
     </g>
    </g>
    <g id="xtick_11">
     <g id="line2d_19">
      <g>
       <path d="M 206.8398 535.4640 L 206.8398 538.9640" style="stroke: #000000"/>
      </g>
     </g>
     <g id="text_19">
      <text style="font-size: 10px; font-family: 'DejaVu Sans', 'Liberation Sans', sans-serif; text-anchor: middle" x="206.83984" y="550.302437" transform="rotate(-0 206.83984 550.302437)">100</text>
     </g>
    </g>
    <g id="xtick_12">
     <g id="line2d_20">
      <g>
       <path d="M 342.7597 535.4640 L 342.7597 538.9640" style="stroke: #000000"/>
      </g>
     </g>
     <g id="text_20">
      <text style="font-size: 10px; font-family: 'DejaVu Sans', 'Liberation Sans', sans-serif; text-anchor: middle" x="342.759679" y="550.302437" transform="rotate(-0 342.759679 550.302437)">200</text>
     </g>
    </g>
    <g id="xtick_13">
     <g id="line2d_21">
      <g>
       <path d="M 478.6795 535.4640 L 478.6795 538.9640" style="stroke: #000000"/>
      </g>
     </g>
     <g id="text_21">
      <text style="font-size: 10px; font-family: 'DejaVu Sans', 'Liberation Sans', sans-serif; text-anchor: middle" x="478.679519" y="550.302437" transform="rotate(-0 478.679519 550.302437)">300</text>
     </g>
    </g>
    <g id="xtick_14">
     <g id="line2d_22">
      <g>
       <path d="M 614.5994 535.4640 L 614.5994 538.9640" style="stroke: #000000"/>
      </g>
     </g>
     <g id="text_22">
      <text style="font-size: 10px; font-family: 'DejaVu Sans', 'Liberation Sans', sans-serif; text-anchor: middle" x="614.599359" y="550.302437" transform="rotate(-0 614.599359 550.302437)">400</text>
     </g>
    </g>
    <g id="xtick_15">
     <g id="line2d_23">
      <g>
       <path d="M 750.5192 535.4640 L 750.5192 538.9640" style="stroke: #000000"/>
      </g>
     </g>
     <g id="text_23">
      <text style="font-size: 10px; font-family: 'DejaVu Sans', 'Liberation Sans', sans-serif; text-anchor: middle" x="750.519198" y="550.302437" transform="rotate(-0 750.519198 550.302437)">500</text>
     </g>
    </g>
   </g>
   <g id="matplotlib.axis_4">
    <g id="ytick_8">
     <g id="line2d_24">
      <g>
       <path d="M 37.0080 520.3008 L 33.5080 520.3008" style="stroke: #000000"/>
      </g>
     </g>
     <g id="text_24">
      <text style="font-size: 10px; font-family: 'DejaVu Sans', 'Liberation Sans', sans-serif; text-anchor: end" x="28.908" y="524.100019" transform="rotate(-0 28.908 524.100019)">−1.0</text>
     </g>
    </g>
    <g id="ytick_9">
     <g id="line2d_25">
      <g>
       <path d="M 37.0080 485.2512 L 33.5080 485.2512" style="stroke: #000000"/>
      </g>
     </g>
     <g id="text_25">
      <text style="font-size: 10px; font-family: 'DejaVu Sans', 'Liberation Sans', sans-serif; text-anchor: end" x="28.908" y="489.050419" transform="rotate(-0 28.908 489.050419)">−0.5</text>
     </g>
    </g>
    <g id="ytick_10">
     <g id="line2d_26">
      <g>
       <path d="M 37.0080 450.2016 L 33.5080 450.2016" style="stroke: #000000"/>
      </g>
     </g>
     <g id="text_26">
      <text style="font-size: 10px; font-family: 'DejaVu Sans', 'Liberation Sans', sans-serif; text-anchor: end" x="28.908" y="454.000819" transform="rotate(-0 28.908 454.000819)">0.0</text>
     </g>
    </g>
    <g id="ytick_11">
     <g id="line2d_27">
      <g>
       <path d="M 37.0080 415.1520 L 33.5080 415.1520" style="stroke: #000000"/>
      </g>
     </g>
     <g id="text_27">
      <text style="font-size: 10px; font-family: 'DejaVu Sans', 'Liberation Sans', sans-serif; text-anchor: end" x="28.908" y="418.951219" transform="rotate(-0 28.908 418.951219)">0.5</text>
     </g>
    </g>
    <g id="ytick_12">
     <g id="line2d_28">
      <g>
       <path d="M 37.0080 380.1024 L 33.5080 380.1024" style="stroke: #000000"/>
      </g>
     </g>
     <g id="text_28">
      <text style="font-size: 10px; font-family: 'DejaVu Sans', 'Liberation Sans', sans-serif; text-anchor: end" x="28.908" y="383.901619" transform="rotate(-0 28.908 383.901619)">1.0</text>
     </g>
    </g>
    <g id="ytick_13">
     <g id="line2d_29">
      <g>
       <path d="M 37.0080 345.0528 L 33.5080 345.0528" style="stroke: #000000"/>
      </g>
     </g>
     <g id="text_29">
      <text style="font-size: 10px; font-family: 'DejaVu Sans', 'Liberation Sans', sans-serif; text-anchor: end" x="28.908" y="348.852019" transform="rotate(-0 28.908 348.852019)">1.5</text>
     </g>
    </g>
    <g id="ytick_14">
     <g id="line2d_30">
      <g>
       <path d="M 37.0080 310.0032 L 33.5080 310.0032" style="stroke: #000000"/>
      </g>
     </g>
     <g id="text_30">
      <text style="font-size: 10px; font-family: 'DejaVu Sans', 'Liberation Sans', sans-serif; text-anchor: end" x="28.908" y="313.802419" transform="rotate(-0 28.908 313.802419)">2.0</text>
     </g>
    </g>
   </g>
   <g id="line2d_31">
    <path d="M 70.92 456.581676 
L 72.279198 456.105963 
L 73.638397 455.996335 
L 74.997595 455.757309 
L 76.356794 454.617984 
L 77.715992 453.887855 
L 79.07519 452.76203 
L 80.434389 451.981049 
L 81.793587 452.509168 
L 83.152786 452.124113 
L 84.511984 450.940135 
L 87.230381 449.667855 
L 88.589579 450.26671 
L 91.307976 451.092359 
L 92.667174 453.065978 
L 94.026373 453.938367 
L 95.385571 455.765132 
L 96.74477 456.619357 
L 98.103968 457.963105 
L 99.463166 455.192596 
L 100.822365 453.010437 
L 102.181563 449.7469 
L 104.89996 449.331422 
L 106.259158 450.196508 
L 107.618357 450.437039 
L 108.977555 451.135535 
L 110.336754 450.765591 
L 111.695952 451.154928 
L 113.05515 450.459493 
L 114.414349 450.556904 
L 115.773547 450.372329 
L 117.132745 449.472719 
L 118.491944 450.211952 
L 121.210341 449.573769 
L 122.569539 450.227915 
L 123.928737 450.125797 
L 125.287936 450.183299 
L 126.647134 450.353878 
L 129.365531 449.982021 
L 130.724729 450.49817 
L 132.083928 451.349907 
L 133.443126 449.967234 
L 136.161523 448.081699 
L 137.520721 445.660556 
L 138.87992 444.408997 
L 140.239118 443.422687 
L 141.598317 441.116499 
L 142.957515 439.773207 
L 144.316713 439.617897 
L 145.675912 442.421091 
L 147.03511 445.795529 
L 148.394309 448.203903 
L 149.753507 450.286551 
L 151.112705 452.970922 
L 153.831102 455.935929 
L 155.190301 456.02716 
L 156.549499 456.91964 
L 157.908697 457.003587 
L 159.267896 457.860181 
L 160.627094 459.072 
L 166.063888 321.990163 
L 168.782285 508.454035 
L 172.85988 459.072 
L 174.219078 458.95969 
L 176.937475 458.336647 
L 178.296673 457.295301 
L 179.655872 457.82079 
L 181.01507 457.218936 
L 182.374269 456.385581 
L 183.733467 456.027342 
L 185.092665 455.502192 
L 186.451864 455.186924 
L 187.811062 453.99425 
L 189.170261 453.447023 
L 190.529459 452.041038 
L 191.888657 451.723279 
L 193.247856 451.677675 
L 194.607054 451.055957 
L 195.966253 451.149578 
L 197.325451 450.821843 
L 198.684649 451.971039 
L 200.043848 452.427806 
L 201.403046 454.542496 
L 202.762244 455.438652 
L 204.121443 457.879427 
L 205.480641 459.610338 
L 206.83984 457.500862 
L 208.199038 456.004668 
L 210.917435 451.68601 
L 212.276633 451.772411 
L 213.635832 450.605148 
L 214.99503 451.161992 
L 216.354228 451.946689 
L 217.713427 452.86434 
L 219.072625 452.423925 
L 220.431824 451.589027 
L 221.791022 451.414741 
L 223.15022 452.215035 
L 224.509419 451.960444 
L 225.868617 452.059163 
L 227.227816 452.540951 
L 228.587014 451.837209 
L 229.946212 452.156404 
L 231.305411 451.235761 
L 234.023808 452.270278 
L 235.383006 453.009256 
L 236.742204 452.666594 
L 238.101403 453.099451 
L 240.8198 453.307391 
L 242.178998 455.109985 
L 243.538196 452.361969 
L 244.897395 451.590805 
L 246.256593 448.676482 
L 247.615792 447.538972 
L 248.97499 445.044392 
L 250.334188 443.653563 
L 251.693387 443.62726 
L 253.052585 441.727723 
L 254.411784 441.652185 
L 255.770982 445.908893 
L 257.13018 449.435549 
L 258.489379 452.305831 
L 259.848577 455.566987 
L 261.207776 456.87106 
L 262.566974 458.618066 
L 265.285371 459.261657 
L 266.644569 459.191323 
L 268.003768 460.020995 
L 269.362966 460.018043 
L 270.722164 461.527182 
L 276.158958 323.251949 
L 278.877355 517.496832 
L 281.595752 462.20643 
L 282.95495 462.57092 
L 284.314148 461.918788 
L 285.673347 460.472079 
L 287.032545 461.046101 
L 288.391743 460.867507 
L 289.750942 459.942658 
L 291.11014 459.15302 
L 292.469339 459.955482 
L 293.828537 458.880888 
L 295.187735 458.508282 
L 296.546934 458.432378 
L 297.906132 456.742741 
L 299.265331 456.269252 
L 300.624529 455.436888 
L 301.983727 454.990899 
L 303.342926 454.045296 
L 304.702124 454.312458 
L 306.061323 453.994792 
L 307.420521 454.249873 
L 308.779719 454.850557 
L 310.138918 454.585106 
L 311.498116 456.167865 
L 312.857315 456.639654 
L 316.93491 460.099694 
L 318.294108 458.520526 
L 319.653307 457.695945 
L 323.730902 453.232649 
L 329.167695 456.851649 
L 330.526894 455.619459 
L 331.886092 455.36077 
L 333.245291 455.775501 
L 334.604489 455.73998 
L 335.963687 455.890795 
L 337.322886 455.769614 
L 338.682084 455.327799 
L 340.041283 455.503082 
L 341.400481 454.270384 
L 342.759679 455.554711 
L 344.118878 455.120795 
L 345.478076 455.728319 
L 346.837275 455.907824 
L 348.196473 455.78685 
L 350.91487 456.788568 
L 352.274068 456.337911 
L 353.633267 453.508091 
L 354.992465 452.483425 
L 356.351663 450.270071 
L 357.710862 448.351913 
L 359.07006 447.836717 
L 361.788457 445.71494 
L 363.147655 446.544532 
L 365.866052 452.892517 
L 367.225251 457.203141 
L 368.584449 460.48172 
L 369.943647 460.971854 
L 371.302846 461.928696 
L 372.662044 462.21124 
L 374.021242 461.307313 
L 375.380441 461.596746 
L 376.739639 461.49204 
L 378.098838 461.755125 
L 383.535631 313.017466 
L 387.613226 507.893242 
L 390.331623 462.584038 
L 391.690822 462.289507 
L 393.05002 462.499334 
L 394.409218 462.266338 
L 395.768417 462.584892 
L 398.486814 460.340722 
L 399.846012 460.027107 
L 401.20521 459.381277 
L 402.564409 459.198018 
L 403.923607 458.250514 
L 405.282806 458.405527 
L 406.642004 458.986441 
L 408.001202 458.021594 
L 410.719599 458.437161 
L 412.078798 456.898132 
L 413.437996 455.661447 
L 414.797194 455.749686 
L 416.156393 456.408495 
L 417.515591 456.763814 
L 418.87479 456.345462 
L 420.233988 457.810567 
L 424.311583 461.483369 
L 425.670782 460.19723 
L 427.02998 459.302576 
L 428.389178 457.901798 
L 429.748377 456.871393 
L 431.107575 454.895057 
L 432.466774 456.051908 
L 433.825972 455.958142 
L 435.18517 457.557574 
L 436.544369 457.533691 
L 437.903567 457.931735 
L 439.262766 458.597863 
L 440.621964 456.879811 
L 441.981162 456.553164 
L 443.340361 457.044325 
L 444.699559 456.373818 
L 446.058758 456.388187 
L 447.417956 457.495763 
L 448.777154 456.230684 
L 450.136353 456.361801 
L 451.495551 456.300999 
L 452.854749 456.788928 
L 454.213948 456.650559 
L 455.573146 456.869261 
L 456.932345 456.551592 
L 458.291543 457.167653 
L 459.650741 457.421811 
L 461.00994 456.864042 
L 462.369138 457.828299 
L 463.728337 456.36899 
L 465.087535 454.488585 
L 466.446733 450.711086 
L 467.805932 449.412884 
L 470.524329 446.452073 
L 471.883527 445.253112 
L 473.242725 444.97727 
L 474.601924 448.343721 
L 475.961122 451.35102 
L 477.320321 454.009853 
L 480.038717 458.188768 
L 482.757114 459.539496 
L 484.116313 459.968517 
L 485.475511 459.40471 
L 488.193908 460.077257 
L 489.553106 463.344362 
L 494.9899 317.784211 
L 497.708297 520.230701 
L 501.785892 461.830609 
L 503.14509 462.021769 
L 504.504289 461.095892 
L 505.863487 461.45243 
L 507.222685 460.545993 
L 508.581884 459.807901 
L 509.941082 460.274074 
L 511.300281 460.152609 
L 512.659479 459.576485 
L 515.377876 458.708742 
L 516.737074 457.210995 
L 518.096273 456.841334 
L 519.455471 458.16811 
L 520.814669 457.750545 
L 522.173868 457.199045 
L 523.533066 455.719681 
L 524.892265 455.472696 
L 526.251463 455.901673 
L 527.610661 455.7712 
L 528.96986 457.56357 
L 530.329058 458.05837 
L 531.688257 459.306014 
L 533.047455 460.895409 
L 534.406653 461.790598 
L 535.765852 461.545311 
L 537.12505 461.608188 
L 538.484248 460.769479 
L 539.843447 459.051482 
L 541.202645 456.427034 
L 542.561844 454.257719 
L 543.921042 455.230959 
L 545.28024 456.785519 
L 546.639439 457.318167 
L 547.998637 457.321396 
L 549.357836 457.137361 
L 550.717034 457.273478 
L 552.076232 456.744724 
L 554.794629 456.065375 
L 557.513026 454.494324 
L 558.872224 454.788832 
L 560.231423 455.246142 
L 561.590621 455.375444 
L 562.94982 456.238657 
L 564.309018 456.665422 
L 565.668216 457.599328 
L 567.027415 456.965084 
L 568.386613 458.189609 
L 569.745812 458.206067 
L 571.10501 457.458399 
L 572.464208 457.722076 
L 573.823407 458.187544 
L 575.182605 457.485206 
L 576.541804 455.563675 
L 577.901002 454.234093 
L 580.619399 449.275743 
L 581.978597 448.311265 
L 583.337796 446.983642 
L 584.696994 445.401558 
L 586.056192 445.281769 
L 588.774589 453.452259 
L 590.133788 456.541654 
L 591.492986 459.332634 
L 592.852184 459.538056 
L 594.211383 460.716094 
L 595.570581 461.063759 
L 596.92978 461.719383 
L 598.288978 461.303595 
L 601.007375 462.203852 
L 602.366573 462.096 
L 606.444168 323.532346 
L 609.162565 524.857248 
L 613.24016 462.096 
L 615.958557 461.931087 
L 617.317756 462.201945 
L 618.676954 461.409223 
L 620.036152 461.552341 
L 621.395351 461.929809 
L 622.754549 461.559368 
L 624.113747 460.577543 
L 625.472946 460.105189 
L 626.832144 460.169513 
L 628.191343 457.992305 
L 629.550541 457.603214 
L 630.909739 456.585332 
L 632.268938 456.574023 
L 633.628136 455.782293 
L 634.987335 455.376982 
L 636.346533 454.851785 
L 637.705731 457.451726 
L 639.06493 458.169347 
L 640.424128 460.383085 
L 641.783327 461.303386 
L 643.142525 463.336721 
L 645.860922 464.352348 
L 647.22012 465.068173 
L 648.579319 462.732226 
L 649.938517 461.547215 
L 651.297715 460.090393 
L 652.656914 457.824537 
L 655.375311 457.047668 
L 656.734509 457.365532 
L 658.093707 458.192391 
L 660.812104 459.243745 
L 662.171303 459.102635 
L 664.889699 457.444379 
L 666.248898 457.804868 
L 667.608096 456.506055 
L 670.326493 457.24398 
L 671.685691 456.407384 
L 673.04489 456.783017 
L 674.404088 455.73364 
L 675.763287 456.967517 
L 677.122485 456.829162 
L 679.840882 457.962962 
L 681.20008 457.700539 
L 682.559279 458.361859 
L 683.918477 458.686464 
L 685.277675 459.345187 
L 686.636874 458.338583 
L 687.996072 456.481422 
L 689.355271 454.973238 
L 690.714469 452.972097 
L 692.073667 452.071859 
L 693.432866 450.062714 
L 694.792064 449.57491 
L 696.151263 447.381204 
L 697.510461 448.742215 
L 698.869659 452.083733 
L 700.228858 454.53424 
L 701.588056 457.317028 
L 702.947255 461.058375 
L 705.665651 462.993978 
L 707.02485 463.3592 
L 708.384048 462.623924 
L 709.743246 463.022455 
L 711.102445 463.250833 
L 712.461643 463.010781 
L 713.820842 463.504683 
L 717.898437 332.364845 
L 721.976032 512.029094 
L 724.694429 465.114752 
L 726.053627 463.178369 
L 727.412826 462.388049 
L 728.772024 461.231602 
L 730.131222 462.096399 
L 731.490421 461.969151 
L 732.849619 461.411802 
L 734.208818 461.219636 
L 735.568016 460.094032 
L 736.927214 459.875775 
L 738.286413 460.437768 
L 739.645611 460.22852 
L 741.00481 459.183955 
L 742.364008 457.840648 
L 743.723206 459.049345 
L 745.082405 457.147952 
L 746.441603 457.332476 
L 747.800802 456.010197 
L 749.16 456.468891 
L 749.16 456.468891 
" clip-path="url(#pa81362d018)" style="fill: none; stroke: #1681c5; stroke-width: 1.75; stroke-linecap: square"/>
   </g>
   <g id="patch_8">
    <path d="M 37.008 535.464 
L 37.008 302.4 
" style="fill: none; stroke: #000000; stroke-linejoin: miter; stroke-linecap: square"/>
   </g>
   <g id="patch_9">
    <path d="M 783.072 535.464 
L 783.072 302.4 
" style="fill: none; stroke: #000000; stroke-linejoin: miter; stroke-linecap: square"/>
   </g>
   <g id="patch_10">
    <path d="M 37.008 535.464 
L 783.072 535.464 
" style="fill: none; stroke: #000000; stroke-linejoin: miter; stroke-linecap: square"/>
   </g>
   <g id="patch_11">
    <path d="M 37.008 302.4 
L 783.072 302.4 
" style="fill: none; stroke: #000000; stroke-linejoin: miter; stroke-linecap: square"/>
   </g>
   <g id="text_31">
    <text style="font-size: 12.4px; font-family: 'DejaVu Sans', 'Liberation Sans', sans-serif; text-anchor: middle" x="410.04" y="296.4" transform="rotate(-0 410.04 296.4)">Segmented Signal</text>
   </g>
  </g>
 </g>
 <defs>
  <clipPath id="p8add9340f0">
   <rect x="37.008" y="23.112" width="746.064" height="232.848"/>
  </clipPath>
  <clipPath id="pa81362d018">
   <rect x="37.008" y="302.4" width="746.064" height="233.064"/>
  </clipPath>
 </defs>
</svg>

</body></html>
